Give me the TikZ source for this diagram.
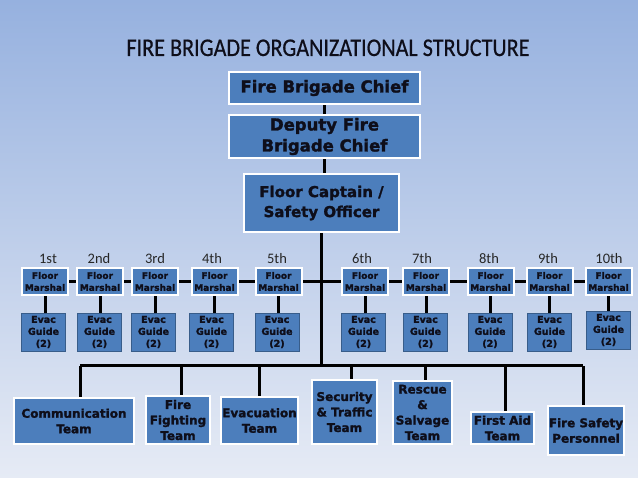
\documentclass[tikz,border=0pt]{standalone}
\usepackage{fontspec}
\usepackage{graphicx}
\newfontfamily\bxfont{DejaVu Sans}[BoldFeatures={FakeBold=1.6}]
\newfontfamily\titlefont{Carlito}
\newfontfamily\titlefontb{Carlito}[FakeBold=0.6]
\definecolor{bgtop}{HTML}{96B1DF}
\definecolor{bgbot}{HTML}{E6EBF5}
\definecolor{boxblue}{HTML}{4C7EBC}
\definecolor{edgeblue}{HTML}{385D8A}
\definecolor{txt}{HTML}{0E0E1A}
\pgfdeclarelayer{bg}
\pgfdeclarelayer{lines}
\pgfsetlayers{bg,lines,main}
\tikzset{
  orgbox/.style={draw=white, line width=2.2pt, fill=boxblue, inner sep=0pt, outer sep=0pt,
    align=center, text=txt},
  topbox/.style={orgbox, font={\bxfont\bfseries\fontsize{16.5}{21}\selectfont}},
  marbox/.style={orgbox, line width=2pt, minimum width=46pt, minimum height=27pt,
    font={\bxfont\bfseries\fontsize{9}{12}\selectfont}},
  evbox/.style={orgbox, draw=edgeblue, line width=0.8pt, minimum width=44pt, minimum height=38pt,
    font={\bxfont\bfseries\fontsize{9.5}{12}\selectfont}},
  teambox/.style={orgbox, font={\bxfont\bfseries\fontsize{12}{15.5}\selectfont}},
  ordlabel/.style={anchor=base, inner sep=0pt, text=black!85, font={\titlefont\fontsize{14.5}{14.5}\selectfont}},
  conn/.style={draw=black, line width=3pt},
}
\begin{document}
\begin{tikzpicture}[x=1pt,y=-1pt]
\begin{pgfonlayer}{bg}
\shade[top color=bgtop, bottom color=bgbot] (0,0) rectangle (638,478);
\end{pgfonlayer}
\useasboundingbox (0,0) rectangle (638,478);

\node[anchor=base, inner sep=0pt, text=txt] (title) at (328,56)
  {\resizebox{403pt}{16.5pt}{\titlefontb FIRE BRIGADE ORGANIZATIONAL STRUCTURE}};

\node[topbox, minimum width=191pt, minimum height=32pt] (chief) at (324.5,88) {Fire Brigade Chief};
\node[topbox, minimum width=191pt, minimum height=43pt] (deputy) at (324.5,136.5) {Deputy Fire\\Brigade Chief};
\node[topbox, minimum width=155pt, minimum height=58pt,
  font={\bxfont\bfseries\fontsize{15}{20}\selectfont}] (captain) at (321.5,203) {Floor Captain /\\Safety Officer};

% ordinal labels
\node[ordlabel] (o1) at (48,264) {1st};
\node[ordlabel] (o2) at (99,264) {2nd};
\node[ordlabel] (o3) at (155,264) {3rd};
\node[ordlabel] (o4) at (212,264) {4th};
\node[ordlabel] (o5) at (277,264) {5th};
\node[ordlabel] (o6) at (362,264) {6th};
\node[ordlabel] (o7) at (422,264) {7th};
\node[ordlabel] (o8) at (489,264) {8th};
\node[ordlabel] (o9) at (548,264) {9th};
\node[ordlabel] (o10) at (609,264) {10th};

% floor marshals
\node[marbox] (m1) at (45,281.5) {Floor\\Marshal};
\node[marbox] (m2) at (100,281.5) {Floor\\Marshal};
\node[marbox] (m3) at (155,281.5) {Floor\\Marshal};
\node[marbox] (m4) at (214.5,281.5) {Floor\\Marshal};
\node[marbox] (m5) at (278.5,281.5) {Floor\\Marshal};
\node[marbox] (m6) at (365,281.5) {Floor\\Marshal};
\node[marbox] (m7) at (426,281.5) {Floor\\Marshal};
\node[marbox] (m8) at (490.5,281.5) {Floor\\Marshal};
\node[marbox] (m9) at (549.5,281.5) {Floor\\Marshal};
\node[marbox] (m10) at (608.5,281.5) {Floor\\Marshal};

% evac guides
\node[evbox] (e1) at (43.5,332) {Evac\\Guide\\(2)};
\node[evbox] (e2) at (99.5,332) {Evac\\Guide\\(2)};
\node[evbox] (e3) at (153.5,332) {Evac\\Guide\\(2)};
\node[evbox] (e4) at (211.5,332) {Evac\\Guide\\(2)};
\node[evbox] (e5) at (277,332) {Evac\\Guide\\(2)};
\node[evbox] (e6) at (363.5,332) {Evac\\Guide\\(2)};
\node[evbox] (e7) at (425.5,332) {Evac\\Guide\\(2)};
\node[evbox] (e8) at (490,332) {Evac\\Guide\\(2)};
\node[evbox] (e9) at (549.5,332) {Evac\\Guide\\(2)};
\node[evbox] (e10) at (608.5,330) {Evac\\Guide\\(2)};

% teams
\node[teambox, minimum width=120pt, minimum height=46pt] (comm) at (74,421) {Communication\\Team};
\node[teambox, minimum width=64pt, minimum height=48pt] (fight) at (178,420) {Fire\\Fighting\\Team};
\node[teambox, minimum width=77pt, minimum height=47pt] (evteam) at (259.5,420.5) {Evacuation\\Team};
\node[teambox, minimum width=65pt, minimum height=64pt] (sec) at (344.5,412) {Security\\\& Traffic\\Team};
\node[teambox, minimum width=59pt, minimum height=63pt] (resc) at (422.5,412.5) {Rescue\\\&\\Salvage\\Team};
\node[teambox, minimum width=63pt, minimum height=32pt] (aid) at (502.5,428) {First Aid\\Team};
\node[teambox, minimum width=76pt, minimum height=49pt] (safety) at (586,430.5) {Fire Safety\\Personnel};

\coordinate (bar) at (0,366);

\begin{pgfonlayer}{lines}
\draw[conn] (chief) -- (deputy);
\draw[conn] ([xshift=2.5pt]captain.north) -- ([xshift=2.5pt]captain.north |- deputy.south);
\draw[conn] (captain.south) -- (captain.south |- bar);
\draw[conn] (m1.east) -- (m10.west);
\foreach \i in {1,...,10} {
  \draw[conn] (m\i.south) -- (m\i.south |- e\i.north);
}
\draw[conn] ([xshift=6pt]comm.north |- bar) -- ([xshift=-3pt]safety.north |- bar);
\draw[conn] ([xshift=6pt]comm.north) -- ([xshift=6pt]comm.north |- bar);
\draw[conn] ([xshift=3pt]fight.north) -- ([xshift=3pt]fight.north |- bar);
\draw[conn] (evteam.north) -- (evteam.north |- bar);
\draw[conn] ([xshift=6.5pt]sec.north) -- ([xshift=6.5pt]sec.north |- bar);
\draw[conn] ([xshift=2.5pt]resc.north) -- ([xshift=2.5pt]resc.north |- bar);
\draw[conn] ([xshift=2.5pt]aid.north) -- ([xshift=2.5pt]aid.north |- bar);
\draw[conn] ([xshift=-3pt]safety.north) -- ([xshift=-3pt]safety.north |- bar);
\end{pgfonlayer}
\end{tikzpicture}
\end{document}
